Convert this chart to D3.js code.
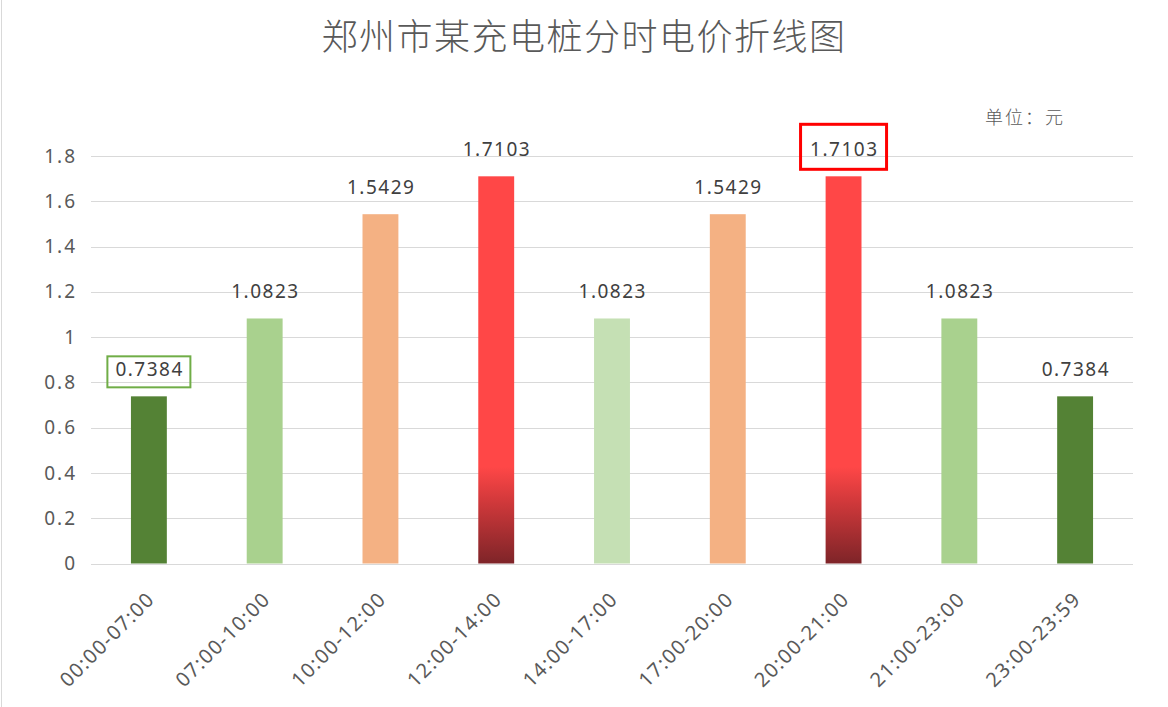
<!DOCTYPE html>
<html><head><meta charset="utf-8">
<script src="https://cdn.jsdelivr.net/npm/d3@7"></script>
<style>
body{margin:0;background:#fff;}
svg{display:block;}
</style></head>
<body>
<svg id="c" width="1168" height="707"></svg>
<script>
const categories = ["00:00-07:00","07:00-10:00","10:00-12:00","12:00-14:00","14:00-17:00","17:00-20:00","20:00-21:00","21:00-23:00","23:00-23:59"];
const prices = [0.7384,1.0823,1.5429,1.7103,1.0823,1.5429,1.7103,1.0823,0.7384];
const barColors = ["#548235","#A9D18E","#F4B183","grad","#C5E0B4","#F4B183","grad","#A9D18E","#548235"];
const yTicks = [0,0.2,0.4,0.6,0.8,1,1.2,1.4,1.6,1.8];
const boxed = {0:"#70AD47", 6:"#FF0000"};

const svg = d3.select("#c");
const W=1168,H=707;
const m={l:91,r:1133,t:156,b:563.5};
const NUMF="Noto Sans, sans-serif";
const CJKF="Noto Sans CJK SC, sans-serif";

// frame line on left
svg.append("line").attr("x1",1.5).attr("x2",1.5).attr("y1",0).attr("y2",H).attr("stroke","#d9d9d9");

const defs=svg.append("defs");
const g=defs.append("linearGradient").attr("id","redgrad").attr("x1",0).attr("x2",0).attr("y1",0).attr("y2",1);
g.append("stop").attr("offset","0%").attr("stop-color","#FF4747");
g.append("stop").attr("offset","75%").attr("stop-color","#FF4747");
g.append("stop").attr("offset","83%").attr("stop-color","#D63A3C");
g.append("stop").attr("offset","100%").attr("stop-color","#7E2428");

const x=d3.scaleBand().domain(categories).range([m.l,m.r]).paddingInner(0.69).paddingOuter(0.345);
const y=d3.scaleLinear().domain([0,1.8]).range([m.b,m.t]);

// gridlines
svg.append("g").selectAll("line").data(yTicks).join("line")
 .attr("x1",m.l).attr("x2",m.r).attr("y1",d=>Math.round(y(d))+0.5).attr("y2",d=>Math.round(y(d))+0.5)
 .attr("stroke","#d9d9d9").attr("stroke-width",1);

// y axis labels
const yAxis=d3.axisLeft(y).tickValues(yTicks).tickFormat(d=>String(d)).tickSize(0).tickPadding(0);
const ya=svg.append("g").attr("transform",`translate(${m.l-14},0)`).call(yAxis);
ya.select(".domain").remove();
ya.selectAll("text").attr("fill","#595959").attr("font-size",19).attr("font-family",NUMF).attr("letter-spacing",2);

// bars
svg.append("g").selectAll("rect").data(prices).join("rect")
 .attr("x",(d,i)=>x(categories[i])).attr("width",x.bandwidth())
 .attr("y",d=>y(d)).attr("height",d=>y(0)-y(d))
 .attr("fill",(d,i)=>barColors[i]==="grad"?"url(#redgrad)":barColors[i]);

// value labels
const lbl=svg.append("g").selectAll("g").data(prices).join("g");
lbl.append("text")
 .attr("x",(d,i)=>x(categories[i])+x.bandwidth()/2+0.75)
 .attr("y",d=>y(d)-20)
 .attr("text-anchor","middle").attr("fill","#404040").attr("font-size",19)
 .attr("font-family",NUMF).attr("letter-spacing",1.5)
 .text(d=>d.toFixed(4));
lbl.each(function(d,i){
  if(boxed[i]){
    const cx=x(categories[i])+x.bandwidth()/2;
    const big = i===6;
    d3.select(this).insert("rect","text")
      .attr("x",cx-(big?43:41.5)).attr("width",big?86:83)
      .attr("y",y(d)-(big?52:40)).attr("height",big?45:31)
      .attr("fill","none").attr("stroke",boxed[i]).attr("stroke-width",big?3:2);
  }
});

// x axis labels rotated
const xa=svg.append("g");
xa.selectAll("text").data(categories).join("text")
 .attr("transform",d=>`translate(${x(d)+x.bandwidth()/2+7},${m.b+37}) rotate(-45)`)
 .attr("text-anchor","end").attr("fill","#595959").attr("font-size",20)
 .attr("font-family",NUMF).attr("letter-spacing",1.4)
 .text(d=>d);

// title
svg.append("text").attr("x",584).attr("y",50).attr("text-anchor","middle")
 .attr("font-family",CJKF).attr("font-size",36).attr("font-weight",300).attr("letter-spacing",1.5)
 .attr("fill","#595959").text("郑州市某充电桩分时电价折线图");

// unit
svg.append("text").attr("x",985).attr("y",124)
 .attr("font-family",CJKF).attr("font-size",18).attr("font-weight",300).attr("letter-spacing",2).attr("fill","#595959")
 .text("单位：元");
</script>
</body></html>
